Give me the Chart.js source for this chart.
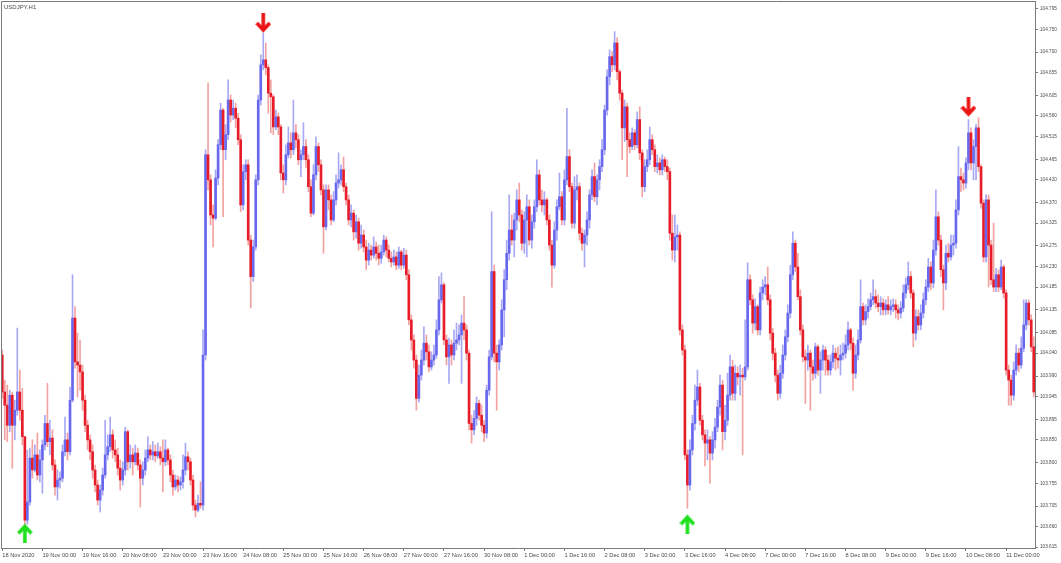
<!DOCTYPE html>
<html>
<head>
<meta charset="utf-8">
<script src="https://cdn.jsdelivr.net/npm/chart.js@4.4.1/dist/chart.umd.min.js"></script>
<style>
  html, body { margin: 0; padding: 0; background: #fff; }
  #wrap { width: 1061px; height: 563px; }
</style>
</head>
<body>
<div id="wrap"><canvas id="priceChart" width="1061" height="563"></canvas></div>
<script>
// USDJPY H1 candles (one entry per hourly bar)
const symbolTitle = 'USDJPY,H1';

const opens = [
  104.036, 103.955, 103.926, 103.882, 103.948, 103.882, 103.915, 103.955, 103.915, 103.857,
  103.674, 103.714, 103.810, 103.784, 103.817, 103.773, 103.806, 103.839, 103.886, 103.846,
  103.854, 103.795, 103.747, 103.762, 103.766, 103.824, 103.850, 103.824, 103.937, 104.117,
  104.021, 104.014, 103.999, 103.937, 103.882, 103.850, 103.824, 103.784, 103.751, 103.718,
  103.740, 103.773, 103.817, 103.835, 103.861, 103.828, 103.817, 103.788, 103.762, 103.784,
  103.868, 103.802, 103.817, 103.802, 103.821, 103.795, 103.766, 103.784, 103.810, 103.828,
  103.817, 103.824, 103.815, 103.824, 103.810, 103.802, 103.828, 103.806, 103.773, 103.747,
  103.762, 103.751, 103.758, 103.784, 103.813, 103.802, 103.762, 103.707, 103.696, 103.711,
  103.707, 104.036, 104.475, 104.420, 104.343, 104.336, 104.424, 104.497, 104.573, 104.486,
  104.519, 104.595, 104.562, 104.577, 104.555, 104.508, 104.365, 104.438, 104.453, 104.288,
  104.208, 104.273, 104.420, 104.595, 104.672, 104.683, 104.666, 104.610, 104.602, 104.536,
  104.558, 104.536, 104.435, 104.420, 104.475, 104.501, 104.486, 104.523, 104.508, 104.464,
  104.475, 104.493, 104.464, 104.405, 104.347, 104.431, 104.493, 104.453, 104.398, 104.317,
  104.398, 104.376, 104.332, 104.376, 104.413, 104.420, 104.442, 104.405, 104.376, 104.332,
  104.347, 104.306, 104.328, 104.281, 104.299, 104.273, 104.244, 104.266, 104.255, 104.273,
  104.259, 104.248, 104.262, 104.288, 104.266, 104.248, 104.240, 104.251, 104.233, 104.262,
  104.233, 104.255, 104.212, 104.113, 104.069, 104.025, 103.941, 103.992, 104.025, 104.062,
  104.043, 104.010, 104.025, 104.036, 104.091, 104.157, 104.190, 104.069, 104.032, 104.058,
  104.036, 104.062, 104.069, 104.080, 104.106, 104.091, 104.040, 103.886, 103.872, 103.897,
  103.930, 103.904, 103.882, 103.865, 103.959, 104.032, 104.219, 104.040, 104.021, 104.058,
  104.135, 104.201, 104.259, 104.310, 104.288, 104.332, 104.376, 104.343, 104.281, 104.332,
  104.361, 104.288, 104.328, 104.361, 104.431, 104.376, 104.365, 104.376, 104.332, 104.277,
  104.233, 104.310, 104.361, 104.383, 104.332, 104.420, 104.471, 104.405, 104.325, 104.398,
  104.405, 104.303, 104.281, 104.299, 104.332, 104.387, 104.427, 104.383, 104.420, 104.449,
  104.486, 104.573, 104.646, 104.690, 104.672, 104.720, 104.657, 104.610, 104.534, 104.580,
  104.508, 104.493, 104.523, 104.497, 104.552, 104.479, 104.405, 104.449, 104.464, 104.508,
  104.486, 104.449, 104.457, 104.442, 104.464, 104.449, 104.438, 104.303, 104.266, 104.295,
  104.299, 104.091, 104.047, 103.817, 103.751, 103.828, 103.886, 103.937, 103.966, 103.893,
  103.861, 103.843, 103.850, 103.821, 103.850, 103.878, 103.922, 103.970, 103.868, 103.893,
  103.948, 104.010, 103.952, 103.996, 103.988, 103.992, 103.988, 104.010, 104.201, 104.157,
  104.106, 104.142, 104.091, 104.172, 104.185, 104.190, 104.157, 104.084, 104.040, 103.992,
  103.952, 103.996, 104.036, 104.076, 104.128, 104.212, 104.281, 104.229, 104.164, 104.091,
  104.032, 104.025, 104.040, 104.010, 103.996, 104.054, 104.003, 104.025, 104.047, 104.025,
  104.003, 104.021, 104.040, 104.029, 104.025, 104.036, 104.040, 104.058, 104.091, 104.062,
  103.996, 104.036, 104.069, 104.142, 104.113, 104.131, 104.142, 104.157, 104.164, 104.150,
  104.142, 104.150, 104.135, 104.146, 104.135, 104.142, 104.146, 104.135, 104.128, 104.139,
  104.172, 104.190, 104.208, 104.172, 104.084, 104.120, 104.102, 104.128, 104.157, 104.185,
  104.229, 104.194, 104.266, 104.339, 104.288, 104.223, 104.194, 104.259, 104.251, 104.277,
  104.281, 104.354, 104.427, 104.420, 104.413, 104.457, 104.523, 104.457, 104.493, 104.534,
  104.449, 104.369, 104.251, 104.376, 104.277, 104.201, 104.185, 104.212, 104.185, 104.229,
  104.172, 104.003, 103.981, 103.948, 104.003, 104.040, 104.014, 104.051, 104.102, 104.150,
  104.113, 104.054
];

const highs = [
  104.047, 103.981, 103.970, 103.959, 103.955, 103.937, 104.095, 104.003, 103.963, 103.857,
  103.828, 103.832, 103.850, 103.839, 103.865, 103.828, 103.850, 103.904, 103.974, 103.893,
  103.872, 103.806, 103.784, 103.780, 103.839, 103.900, 103.865, 103.966, 104.212, 104.142,
  104.084, 104.069, 104.014, 103.948, 103.893, 103.861, 103.839, 103.795, 103.762, 103.751,
  103.788, 103.893, 103.861, 103.900, 103.872, 103.850, 103.832, 103.806, 103.802, 103.878,
  103.872, 103.839, 103.832, 103.839, 103.832, 103.806, 103.802, 103.828, 103.857, 103.839,
  103.846, 103.839, 103.843, 103.835, 103.850, 103.850, 103.832, 103.817, 103.784, 103.773,
  103.771, 103.769, 103.817, 103.843, 103.824, 103.810, 103.773, 103.718, 103.729, 103.758,
  104.091, 104.486, 104.632, 104.431, 104.365, 104.442, 104.508, 104.588, 104.577, 104.541,
  104.639, 104.606, 104.595, 104.588, 104.566, 104.519, 104.453, 104.464, 104.464, 104.299,
  104.288, 104.431, 104.606, 104.694, 104.742, 104.720, 104.672, 104.639, 104.606, 104.573,
  104.566, 104.541, 104.453, 104.497, 104.536, 104.523, 104.595, 104.541, 104.519, 104.486,
  104.545, 104.508, 104.475, 104.420, 104.453, 104.514, 104.501, 104.464, 104.409, 104.409,
  104.409, 104.387, 104.394, 104.431, 104.479, 104.453, 104.470, 104.413, 104.387, 104.365,
  104.354, 104.343, 104.336, 104.321, 104.310, 104.288, 104.281, 104.277, 104.295, 104.284,
  104.277, 104.277, 104.299, 104.295, 104.277, 104.262, 104.266, 104.262, 104.273, 104.266,
  104.270, 104.266, 104.223, 104.124, 104.080, 104.036, 104.014, 104.047, 104.098, 104.080,
  104.058, 104.043, 104.058, 104.113, 104.208, 104.216, 104.194, 104.080, 104.073, 104.069,
  104.091, 104.106, 104.102, 104.124, 104.164, 104.102, 104.047, 103.904, 103.915, 103.944,
  103.937, 103.926, 103.893, 103.970, 104.047, 104.350, 104.233, 104.058, 104.069, 104.157,
  104.223, 104.288, 104.387, 104.343, 104.347, 104.398, 104.413, 104.354, 104.350, 104.387,
  104.376, 104.343, 104.376, 104.464, 104.442, 104.398, 104.394, 104.380, 104.343, 104.288,
  104.328, 104.376, 104.435, 104.394, 104.442, 104.577, 104.486, 104.413, 104.427, 104.431,
  104.413, 104.314, 104.310, 104.350, 104.398, 104.442, 104.457, 104.431, 104.464, 104.508,
  104.584, 104.661, 104.705, 104.701, 104.745, 104.731, 104.661, 104.617, 104.595, 104.588,
  104.523, 104.534, 104.530, 104.569, 104.580, 104.486, 104.464, 104.486, 104.536, 104.519,
  104.497, 104.475, 104.468, 104.475, 104.470, 104.464, 104.446, 104.343, 104.343, 104.321,
  104.306, 104.102, 104.058, 103.828, 103.850, 103.904, 103.970, 104.003, 103.974, 103.904,
  103.872, 103.872, 103.857, 103.868, 103.897, 103.937, 103.992, 103.981, 103.926, 103.996,
  104.036, 104.025, 104.014, 104.010, 104.014, 104.007, 104.113, 104.238, 104.212, 104.168,
  104.159, 104.146, 104.185, 104.201, 104.208, 104.229, 104.168, 104.095, 104.051, 104.003,
  104.014, 104.058, 104.091, 104.146, 104.233, 104.306, 104.288, 104.259, 104.179, 104.102,
  104.047, 104.058, 104.047, 104.025, 104.062, 104.058, 104.043, 104.058, 104.054, 104.036,
  104.036, 104.058, 104.051, 104.054, 104.058, 104.062, 104.080, 104.109, 104.095, 104.073,
  104.058, 104.091, 104.201, 104.150, 104.146, 104.159, 104.172, 104.201, 104.179, 104.168,
  104.164, 104.159, 104.157, 104.164, 104.157, 104.159, 104.157, 104.146, 104.153, 104.190,
  104.205, 104.240, 104.219, 104.179, 104.135, 104.135, 104.146, 104.172, 104.201, 104.248,
  104.240, 104.288, 104.398, 104.350, 104.299, 104.233, 104.277, 104.281, 104.299, 104.299,
  104.376, 104.493, 104.446, 104.435, 104.468, 104.552, 104.534, 104.508, 104.541, 104.556,
  104.453, 104.376, 104.387, 104.387, 104.288, 104.325, 104.226, 104.223, 104.244, 104.233,
  104.179, 104.014, 103.992, 104.021, 104.058, 104.051, 104.076, 104.157, 104.157, 104.157,
  104.124, 104.076
];

const lows = [
  103.941, 103.850, 103.846, 103.868, 103.788, 103.850, 103.904, 103.893, 103.839, 103.661,
  103.665, 103.707, 103.766, 103.780, 103.762, 103.758, 103.733, 103.828, 103.835, 103.817,
  103.784, 103.729, 103.718, 103.744, 103.758, 103.815, 103.806, 103.817, 103.933, 104.007,
  103.944, 103.959, 103.915, 103.868, 103.828, 103.806, 103.766, 103.736, 103.707, 103.692,
  103.729, 103.766, 103.806, 103.824, 103.810, 103.802, 103.773, 103.740, 103.751, 103.773,
  103.784, 103.788, 103.773, 103.795, 103.784, 103.703, 103.751, 103.773, 103.802, 103.806,
  103.806, 103.802, 103.810, 103.795, 103.736, 103.793, 103.795, 103.758, 103.729, 103.740,
  103.736, 103.740, 103.744, 103.773, 103.784, 103.751, 103.696, 103.681, 103.692, 103.700,
  103.696, 104.025, 104.398, 104.321, 104.273, 104.332, 104.409, 104.486, 104.339, 104.464,
  104.508, 104.547, 104.552, 104.534, 104.497, 104.350, 104.354, 104.420, 104.277, 104.139,
  104.197, 104.266, 104.409, 104.584, 104.661, 104.650, 104.566, 104.523, 104.519, 104.530,
  104.519, 104.420, 104.391, 104.409, 104.468, 104.468, 104.475, 104.490, 104.453, 104.427,
  104.464, 104.446, 104.394, 104.339, 104.343, 104.420, 104.438, 104.387, 104.259, 104.310,
  104.354, 104.321, 104.328, 104.365, 104.402, 104.409, 104.394, 104.365, 104.321, 104.317,
  104.288, 104.292, 104.266, 104.270, 104.262, 104.223, 104.233, 104.244, 104.248, 104.244,
  104.233, 104.237, 104.255, 104.251, 104.240, 104.229, 104.233, 104.223, 104.226, 104.223,
  104.226, 104.201, 104.102, 104.047, 104.007, 103.915, 103.933, 103.981, 104.014, 104.025,
  103.999, 104.003, 104.014, 104.029, 104.080, 104.150, 104.058, 104.014, 103.974, 104.014,
  104.025, 104.047, 104.058, 103.974, 104.069, 104.025, 103.872, 103.843, 103.861, 103.882,
  103.893, 103.868, 103.846, 103.854, 103.948, 104.025, 104.021, 103.915, 104.003, 104.047,
  104.076, 104.179, 104.244, 104.277, 104.251, 104.310, 104.328, 104.266, 104.259, 104.251,
  104.277, 104.270, 104.314, 104.350, 104.365, 104.350, 104.343, 104.321, 104.266, 104.185,
  104.226, 104.288, 104.354, 104.321, 104.321, 104.409, 104.394, 104.314, 104.314, 104.376,
  104.288, 104.266, 104.229, 104.277, 104.314, 104.376, 104.372, 104.365, 104.398, 104.438,
  104.475, 104.562, 104.628, 104.657, 104.661, 104.639, 104.595, 104.464, 104.504, 104.427,
  104.479, 104.486, 104.486, 104.490, 104.464, 104.383, 104.394, 104.438, 104.453, 104.475,
  104.438, 104.435, 104.431, 104.431, 104.438, 104.420, 104.288, 104.244, 104.240, 104.266,
  104.080, 104.036, 103.806, 103.700, 103.740, 103.817, 103.872, 103.926, 103.882, 103.850,
  103.793, 103.806, 103.755, 103.806, 103.832, 103.868, 103.904, 103.828, 103.850, 103.882,
  103.937, 103.937, 103.937, 103.970, 103.948, 103.817, 103.981, 104.003, 104.146, 104.084,
  104.091, 104.080, 104.080, 104.157, 104.168, 104.146, 104.069, 104.025, 103.977, 103.937,
  103.941, 103.985, 104.025, 104.065, 104.117, 104.201, 104.219, 104.157, 104.080, 104.021,
  103.930, 104.003, 103.915, 103.981, 103.985, 103.992, 103.952, 104.003, 103.992, 103.992,
  103.992, 104.007, 104.003, 104.007, 103.992, 104.025, 104.029, 104.047, 104.047, 103.959,
  103.985, 104.025, 104.062, 104.102, 104.102, 104.117, 104.135, 104.146, 104.139, 104.131,
  104.124, 104.124, 104.124, 104.126, 104.124, 104.131, 104.117, 104.113, 104.117, 104.131,
  104.161, 104.179, 104.161, 104.054, 104.069, 104.091, 104.091, 104.117, 104.146, 104.175,
  104.179, 104.183, 104.255, 104.277, 104.208, 104.135, 104.179, 104.240, 104.244, 104.255,
  104.270, 104.343, 104.394, 104.398, 104.402, 104.442, 104.442, 104.420, 104.420, 104.438,
  104.358, 104.240, 104.240, 104.185, 104.190, 104.175, 104.175, 104.175, 104.179, 104.161,
  103.992, 103.926, 103.926, 103.937, 103.992, 103.999, 104.007, 104.043, 104.091, 104.102,
  104.043, 103.944
];

const closes = [
  103.955, 103.926, 103.882, 103.948, 103.882, 103.915, 103.955, 103.915, 103.857, 103.674,
  103.714, 103.810, 103.784, 103.817, 103.773, 103.806, 103.839, 103.886, 103.846, 103.854,
  103.795, 103.747, 103.762, 103.766, 103.824, 103.850, 103.824, 103.937, 104.117, 104.021,
  104.014, 103.999, 103.937, 103.882, 103.850, 103.824, 103.784, 103.751, 103.718, 103.740,
  103.773, 103.817, 103.835, 103.861, 103.828, 103.817, 103.788, 103.762, 103.784, 103.868,
  103.802, 103.817, 103.802, 103.821, 103.795, 103.766, 103.784, 103.810, 103.828, 103.817,
  103.824, 103.815, 103.824, 103.810, 103.802, 103.828, 103.806, 103.773, 103.747, 103.762,
  103.751, 103.758, 103.784, 103.813, 103.802, 103.762, 103.707, 103.696, 103.711, 103.707,
  104.036, 104.475, 104.420, 104.343, 104.336, 104.424, 104.497, 104.573, 104.486, 104.519,
  104.595, 104.562, 104.577, 104.555, 104.508, 104.365, 104.438, 104.453, 104.288, 104.208,
  104.273, 104.420, 104.595, 104.672, 104.683, 104.666, 104.610, 104.602, 104.536, 104.558,
  104.536, 104.435, 104.420, 104.475, 104.501, 104.486, 104.523, 104.508, 104.464, 104.475,
  104.493, 104.464, 104.405, 104.347, 104.431, 104.493, 104.453, 104.398, 104.317, 104.398,
  104.376, 104.332, 104.376, 104.413, 104.420, 104.442, 104.405, 104.376, 104.332, 104.347,
  104.306, 104.328, 104.281, 104.299, 104.273, 104.244, 104.266, 104.255, 104.273, 104.259,
  104.248, 104.262, 104.288, 104.266, 104.248, 104.240, 104.251, 104.233, 104.262, 104.233,
  104.255, 104.212, 104.113, 104.069, 104.025, 103.941, 103.992, 104.025, 104.062, 104.043,
  104.010, 104.025, 104.036, 104.091, 104.157, 104.190, 104.069, 104.032, 104.058, 104.036,
  104.062, 104.069, 104.080, 104.106, 104.091, 104.040, 103.886, 103.872, 103.897, 103.930,
  103.904, 103.882, 103.865, 103.959, 104.032, 104.219, 104.040, 104.021, 104.058, 104.135,
  104.201, 104.259, 104.310, 104.288, 104.332, 104.376, 104.343, 104.281, 104.332, 104.361,
  104.288, 104.328, 104.361, 104.431, 104.376, 104.365, 104.376, 104.332, 104.277, 104.233,
  104.310, 104.361, 104.383, 104.332, 104.420, 104.471, 104.405, 104.325, 104.398, 104.405,
  104.303, 104.281, 104.299, 104.332, 104.387, 104.427, 104.383, 104.420, 104.449, 104.486,
  104.573, 104.646, 104.690, 104.672, 104.720, 104.657, 104.610, 104.534, 104.580, 104.508,
  104.493, 104.523, 104.497, 104.552, 104.479, 104.405, 104.449, 104.464, 104.508, 104.486,
  104.449, 104.457, 104.442, 104.464, 104.449, 104.438, 104.303, 104.266, 104.295, 104.299,
  104.091, 104.047, 103.817, 103.751, 103.828, 103.886, 103.937, 103.966, 103.893, 103.861,
  103.843, 103.850, 103.821, 103.850, 103.878, 103.922, 103.970, 103.868, 103.893, 103.948,
  104.010, 103.952, 103.996, 103.988, 103.992, 103.988, 104.010, 104.201, 104.157, 104.106,
  104.142, 104.091, 104.172, 104.185, 104.190, 104.157, 104.084, 104.040, 103.992, 103.952,
  103.996, 104.036, 104.076, 104.128, 104.212, 104.281, 104.229, 104.164, 104.091, 104.032,
  104.025, 104.040, 104.010, 103.996, 104.054, 104.003, 104.025, 104.047, 104.025, 104.003,
  104.021, 104.040, 104.029, 104.025, 104.036, 104.040, 104.058, 104.091, 104.062, 103.996,
  104.036, 104.069, 104.142, 104.113, 104.131, 104.142, 104.157, 104.164, 104.150, 104.142,
  104.150, 104.135, 104.146, 104.135, 104.142, 104.146, 104.135, 104.128, 104.139, 104.172,
  104.190, 104.208, 104.172, 104.084, 104.120, 104.102, 104.128, 104.157, 104.185, 104.229,
  104.194, 104.266, 104.339, 104.288, 104.223, 104.194, 104.259, 104.251, 104.277, 104.281,
  104.354, 104.427, 104.420, 104.413, 104.457, 104.523, 104.457, 104.493, 104.534, 104.449,
  104.369, 104.251, 104.376, 104.277, 104.201, 104.185, 104.212, 104.185, 104.229, 104.172,
  104.003, 103.981, 103.948, 104.003, 104.040, 104.014, 104.051, 104.102, 104.150, 104.113,
  104.054, 103.955
];

// signal arrows (bar index + price where the arrow sits)
const upArrowBars = [9, 273];
const upArrowPrices = [103.645, 103.665];
const downArrowBars = [104, 385];
const downArrowPrices = [104.764, 104.580];

// axis labels
const priceTicks = [
  104.795, 104.750, 104.700, 104.655, 104.605, 104.560, 104.515, 104.465, 104.420,
  104.370, 104.325, 104.275, 104.230, 104.185, 104.135, 104.085, 104.040, 103.990,
  103.945, 103.895, 103.850, 103.800, 103.755, 103.705, 103.660, 103.615
];
const timeTicks = [
  '18 Nov 2020', '19 Nov 00:00', '19 Nov 16:00', '20 Nov 08:00', '23 Nov 00:00',
  '23 Nov 16:00', '24 Nov 08:00', '25 Nov 00:00', '25 Nov 16:00', '26 Nov 08:00',
  '27 Nov 00:00', '27 Nov 16:00', '30 Nov 08:00', '1 Dec 00:00', '1 Dec 16:00',
  '2 Dec 08:00', '3 Dec 00:00', '3 Dec 16:00', '4 Dec 08:00', '7 Dec 00:00',
  '7 Dec 16:00', '8 Dec 08:00', '9 Dec 00:00', '9 Dec 16:00', '10 Dec 08:00',
  '11 Dec 00:00'
];
const barsPerTick = 16;
const priceMin = 103.613;
const priceMax = 104.812;

// colours
const bullBody = 'rgb(104,104,238)';
const bearBody = 'rgb(230,28,40)';
const bullWick = 'rgba(110,110,236,0.6)';
const bearWick = 'rgba(232,70,70,0.5)';
const axisColor = '#7a7a7a';
const textColor = '#4a4a4a';
const fontFamily = '"Liberation Sans", Arial, sans-serif';

const barIndex = closes.map((_, i) => i);
const isUp = i => closes[i] >= opens[i];
const wickRanges = lows.map((l, i) => [l, highs[i]]);
const bodyRanges = opens.map((o, i) => [o, closes[i]]);
const upArrowSeries = barIndex.map(i => {
  const k = upArrowBars.indexOf(i);
  return k >= 0 ? upArrowPrices[k] : null;
});
const downArrowSeries = barIndex.map(i => {
  const k = downArrowBars.indexOf(i);
  return k >= 0 ? downArrowPrices[k] : null;
});

// thick arrow glyph used as point style
function makeArrow(color, pointingDown) {
  const c = document.createElement('canvas');
  c.width = 16; c.height = 20;
  const g = c.getContext('2d');
  if (!pointingDown) { g.translate(0, 20); g.scale(1, -1); }
  g.strokeStyle = color;
  g.lineWidth = 3.6;
  g.lineJoin = 'miter';
  g.beginPath();
  g.moveTo(8, 0); g.lineTo(8, 17);
  g.stroke();
  g.beginPath();
  g.moveTo(1.5, 10); g.lineTo(8, 17); g.lineTo(14.5, 10);
  g.stroke();
  return c;
}

const framePlugin = {
  id: 'frame',
  beforeDraw(chart) {
    const c = chart.ctx;
    c.save();
    c.fillStyle = '#fff';
    c.fillRect(0, 0, chart.width, chart.height);
    c.restore();
  },
  afterDraw(chart) {
    const c = chart.ctx, a = chart.chartArea;
    c.save();
    c.strokeStyle = axisColor;
    c.lineWidth = 1;
    c.beginPath();
    c.moveTo(a.left + 0.5, a.bottom);
    c.lineTo(a.left + 0.5, a.top + 0.5);
    c.lineTo(a.right, a.top + 0.5);
    c.stroke();
    c.fillStyle = textColor;
    c.font = '6px ' + fontFamily;
    c.textBaseline = 'middle';
    c.fillText(symbolTitle, a.left + 3, a.top + 6);
    c.restore();
  }
};

const ctx = document.getElementById('priceChart').getContext('2d');
const priceChart = new Chart(ctx, {
  type: 'bar',
  data: {
    labels: barIndex,
    datasets: [
      {
        type: 'line',
        data: upArrowSeries,
        showLine: false,
        pointStyle: makeArrow('rgb(30,225,30)', false),
        pointRadius: 8,
        order: 0
      },
      {
        type: 'line',
        data: downArrowSeries,
        showLine: false,
        pointStyle: makeArrow('rgb(235,20,20)', true),
        pointRadius: 8,
        order: 0
      },
      {
        data: bodyRanges,
        backgroundColor: c => isUp(c.dataIndex) ? bullBody : bearBody,
        barThickness: 2,
        minBarLength: 1,
        grouped: false,
        borderWidth: 0,
        order: 1
      },
      {
        data: wickRanges,
        backgroundColor: c => isUp(c.dataIndex) ? bullWick : bearWick,
        barThickness: 1,
        grouped: false,
        borderWidth: 0,
        order: 2
      }
    ]
  },
  options: {
    responsive: false,
    animation: false,
    events: [],
    layout: { autoPadding: false, padding: { left: 1, top: 1, right: 0, bottom: 0 } },
    plugins: {
      legend: { display: false },
      tooltip: { enabled: false }
    },
    scales: {
      x: {
        type: 'category',
        offset: true,
        afterBuildTicks: s => { s.ticks = timeTicks.map((_, k) => ({ value: k * barsPerTick })); },
        afterFit: s => { s.height = 15; s.paddingLeft = 0; s.paddingRight = 0; },
        ticks: {
          autoSkip: false,
          maxRotation: 0,
          minRotation: 0,
          align: 'start',
          padding: 1,
          color: textColor,
          font: { family: fontFamily, size: 5.7 },
          callback: (v, i) => timeTicks[i]
        },
        grid: { offset: false, drawOnChartArea: false, tickLength: 3, color: axisColor },
        border: { display: true, color: axisColor }
      },
      y: {
        position: 'right',
        min: priceMin,
        max: priceMax,
        afterBuildTicks: s => { s.ticks = priceTicks.map(v => ({ value: v })); },
        afterFit: s => { s.width = 26; s.paddingTop = 0; s.paddingBottom = 0; },
        ticks: {
          autoSkip: false,
          padding: 2,
          color: textColor,
          font: { family: fontFamily, size: 4.7 },
          callback: (v, i) => priceTicks[i].toFixed(3)
        },
        grid: { drawOnChartArea: false, tickLength: 3, color: axisColor },
        border: { display: true, color: axisColor }
      }
    }
  },
  plugins: [framePlugin]
});
</script>
</body>
</html>
